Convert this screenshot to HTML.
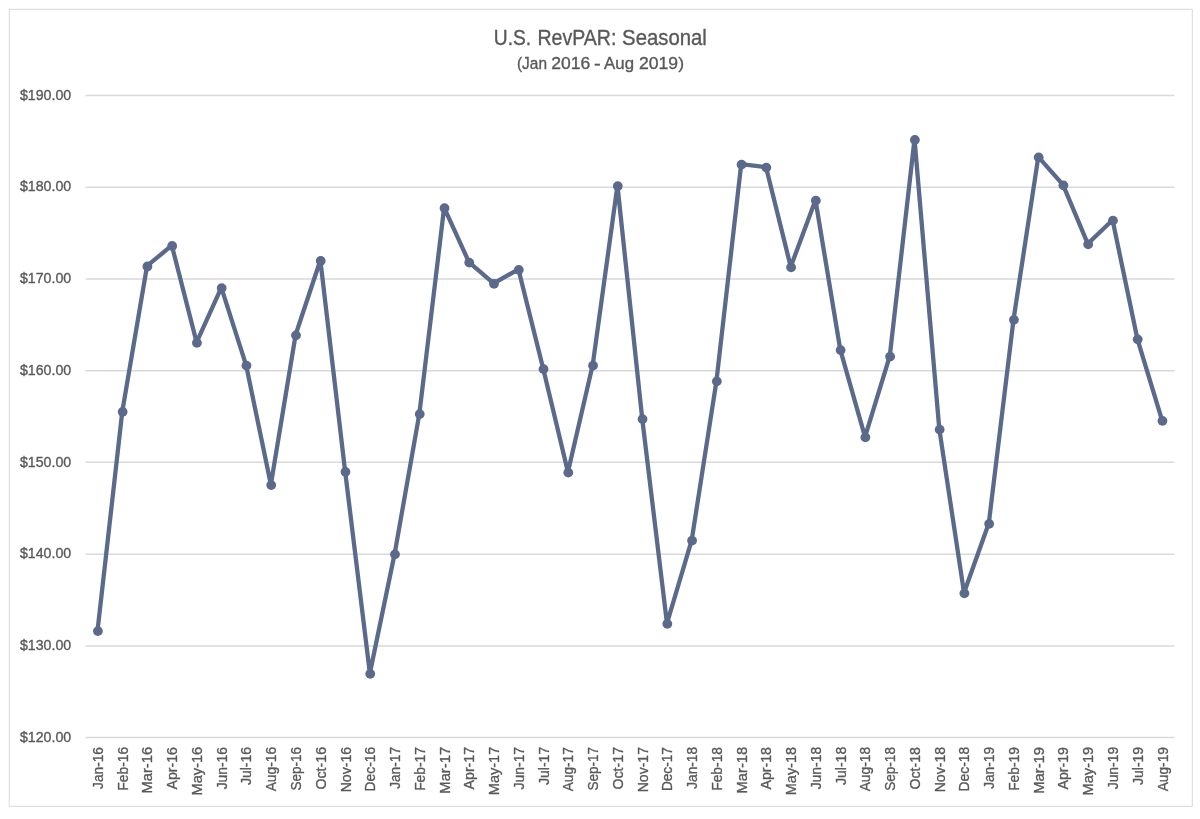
<!DOCTYPE html>
<html lang="en">
<head>
<meta charset="utf-8">
<title>U.S. RevPAR: Seasonal</title>
<style>
html,body{margin:0;padding:0;background:#ffffff;}
body{width:1200px;height:819px;overflow:hidden;font-family:"Liberation Sans",sans-serif;}
svg{display:block;will-change:transform;filter:blur(0.35px);}
text{font-family:"Liberation Sans",sans-serif;fill:#595959;stroke:#595959;stroke-width:0.35px;stroke-linejoin:round;}
</style>
</head>
<body>
<svg width="1200" height="819" viewBox="0 0 1200 819">
<rect x="0" y="0" width="1200" height="819" fill="#ffffff"/>
<rect x="9.3" y="9.3" width="1183" height="797" fill="#ffffff" stroke="#d9d9d9" stroke-width="1"/>
<g stroke="#d9d9d9" stroke-width="1.5" fill="none">
<line x1="85.6" y1="95.45" x2="1174.5" y2="95.45"/>
<line x1="85.6" y1="187.35" x2="1174.5" y2="187.35"/>
<line x1="85.6" y1="279.00" x2="1174.5" y2="279.00"/>
<line x1="85.6" y1="370.68" x2="1174.5" y2="370.68"/>
<line x1="85.6" y1="462.30" x2="1174.5" y2="462.30"/>
<line x1="85.6" y1="554.30" x2="1174.5" y2="554.30"/>
<line x1="85.6" y1="645.93" x2="1174.5" y2="645.93"/>
<line x1="85.6" y1="737.50" x2="1174.5" y2="737.50"/>
</g>
<g>
<text transform="translate(493.80 44.80) scale(0.8654 1)" font-size="22.2">U.S.</text>
<text transform="translate(537.40 44.80) scale(0.8823 1)" font-size="22.2">RevPAR:</text>
<text transform="translate(622.07 44.80) scale(0.9169 1)" font-size="22.2">Seasonal</text>
<text transform="translate(516.94 68.70) scale(0.8995 1)" font-size="17.2">(Jan</text>
<text transform="translate(551.29 68.70) scale(1.0190 1)" font-size="17.2">2016</text>
<text transform="translate(594.05 68.70) scale(1.1727 1)" font-size="17.2">-</text>
<text transform="translate(604.11 68.70) scale(0.9777 1)" font-size="17.2">Aug</text>
<text transform="translate(639.05 68.70) scale(1.0229 1)" font-size="17.2">2019)</text>
<text transform="translate(19.90 99.75) scale(0.9406 1)" font-size="15.1">$190.00</text>
<text transform="translate(19.90 191.45) scale(0.9406 1)" font-size="15.1">$180.00</text>
<text transform="translate(19.90 283.15) scale(0.9406 1)" font-size="15.1">$170.00</text>
<text transform="translate(19.90 374.85) scale(0.9406 1)" font-size="15.1">$160.00</text>
<text transform="translate(19.90 466.55) scale(0.9406 1)" font-size="15.1">$150.00</text>
<text transform="translate(19.90 558.25) scale(0.9406 1)" font-size="15.1">$140.00</text>
<text transform="translate(19.90 649.95) scale(0.9406 1)" font-size="15.1">$130.00</text>
<text transform="translate(19.90 741.65) scale(0.9406 1)" font-size="15.1">$120.00</text>
<text transform="translate(102.95 788.89) rotate(-90) scale(0.9070 1)" font-size="15.1">Jan-16</text>
<text transform="translate(127.71 790.68) rotate(-90) scale(0.9157 1)" font-size="15.1">Feb-16</text>
<text transform="translate(152.46 793.55) rotate(-90) scale(0.9757 1)" font-size="15.1">Mar-16</text>
<text transform="translate(177.22 789.42) rotate(-90) scale(0.9328 1)" font-size="15.1">Apr-16</text>
<text transform="translate(201.98 795.41) rotate(-90) scale(0.9658 1)" font-size="15.1">May-16</text>
<text transform="translate(226.74 789.33) rotate(-90) scale(0.9162 1)" font-size="15.1">Jun-16</text>
<text transform="translate(251.49 785.05) rotate(-90) scale(0.9289 1)" font-size="15.1">Jul-16</text>
<text transform="translate(276.25 791.33) rotate(-90) scale(0.9146 1)" font-size="15.1">Aug-16</text>
<text transform="translate(301.01 790.50) rotate(-90) scale(0.8965 1)" font-size="15.1">Sep-16</text>
<text transform="translate(325.76 789.54) rotate(-90) scale(0.9414 1)" font-size="15.1">Oct-16</text>
<text transform="translate(350.52 792.28) rotate(-90) scale(0.9319 1)" font-size="15.1">Nov-16</text>
<text transform="translate(375.28 791.39) rotate(-90) scale(0.9174 1)" font-size="15.1">Dec-16</text>
<text transform="translate(400.03 788.87) rotate(-90) scale(0.9079 1)" font-size="15.1">Jan-17</text>
<text transform="translate(424.79 790.86) rotate(-90) scale(0.9149 1)" font-size="15.1">Feb-17</text>
<text transform="translate(449.55 793.66) rotate(-90) scale(0.9785 1)" font-size="15.1">Mar-17</text>
<text transform="translate(474.31 789.41) rotate(-90) scale(0.9388 1)" font-size="15.1">Apr-17</text>
<text transform="translate(499.06 795.18) rotate(-90) scale(0.9624 1)" font-size="15.1">May-17</text>
<text transform="translate(523.82 789.38) rotate(-90) scale(0.9198 1)" font-size="15.1">Jun-17</text>
<text transform="translate(548.58 785.06) rotate(-90) scale(0.9307 1)" font-size="15.1">Jul-17</text>
<text transform="translate(573.33 791.34) rotate(-90) scale(0.9090 1)" font-size="15.1">Aug-17</text>
<text transform="translate(598.09 790.53) rotate(-90) scale(0.8976 1)" font-size="15.1">Sep-17</text>
<text transform="translate(622.85 789.54) rotate(-90) scale(0.9417 1)" font-size="15.1">Oct-17</text>
<text transform="translate(647.60 792.28) rotate(-90) scale(0.9304 1)" font-size="15.1">Nov-17</text>
<text transform="translate(672.36 791.10) rotate(-90) scale(0.9056 1)" font-size="15.1">Dec-17</text>
<text transform="translate(697.12 788.74) rotate(-90) scale(0.9051 1)" font-size="15.1">Jan-18</text>
<text transform="translate(721.88 790.84) rotate(-90) scale(0.9187 1)" font-size="15.1">Feb-18</text>
<text transform="translate(746.63 793.56) rotate(-90) scale(0.9813 1)" font-size="15.1">Mar-18</text>
<text transform="translate(771.39 789.42) rotate(-90) scale(0.9364 1)" font-size="15.1">Apr-18</text>
<text transform="translate(796.15 795.17) rotate(-90) scale(0.9568 1)" font-size="15.1">May-18</text>
<text transform="translate(820.90 789.34) rotate(-90) scale(0.9214 1)" font-size="15.1">Jun-18</text>
<text transform="translate(845.66 785.05) rotate(-90) scale(0.9300 1)" font-size="15.1">Jul-18</text>
<text transform="translate(870.42 791.34) rotate(-90) scale(0.9146 1)" font-size="15.1">Aug-18</text>
<text transform="translate(895.17 790.72) rotate(-90) scale(0.8975 1)" font-size="15.1">Sep-18</text>
<text transform="translate(919.93 789.54) rotate(-90) scale(0.9371 1)" font-size="15.1">Oct-18</text>
<text transform="translate(944.69 792.28) rotate(-90) scale(0.9313 1)" font-size="15.1">Nov-18</text>
<text transform="translate(969.44 791.39) rotate(-90) scale(0.9176 1)" font-size="15.1">Dec-18</text>
<text transform="translate(994.20 788.85) rotate(-90) scale(0.9070 1)" font-size="15.1">Jan-19</text>
<text transform="translate(1018.96 790.82) rotate(-90) scale(0.9142 1)" font-size="15.1">Feb-19</text>
<text transform="translate(1043.72 793.71) rotate(-90) scale(0.9754 1)" font-size="15.1">Mar-19</text>
<text transform="translate(1068.47 789.41) rotate(-90) scale(0.9365 1)" font-size="15.1">Apr-19</text>
<text transform="translate(1093.23 795.41) rotate(-90) scale(0.9656 1)" font-size="15.1">May-19</text>
<text transform="translate(1117.99 789.34) rotate(-90) scale(0.9240 1)" font-size="15.1">Jun-19</text>
<text transform="translate(1142.74 785.02) rotate(-90) scale(0.9288 1)" font-size="15.1">Jul-19</text>
<text transform="translate(1167.50 791.34) rotate(-90) scale(0.9102 1)" font-size="15.1">Aug-19</text>
</g>
<polyline transform="translate(-0.35 -0.55)" points="97.90,631.10 122.66,411.85 147.41,266.50 172.17,246.00 196.93,342.85 221.69,288.10 246.44,365.60 271.20,485.10 295.96,335.35 320.71,260.85 345.47,471.85 370.23,673.85 394.98,554.35 419.74,414.10 444.50,208.10 469.25,262.60 494.01,283.85 518.77,269.85 543.53,369.10 568.28,472.60 593.04,365.60 617.80,186.10 642.55,419.10 667.31,623.85 692.07,540.60 716.83,381.35 741.58,164.60 766.34,167.60 791.10,267.35 815.85,200.60 840.61,350.10 865.37,437.35 890.12,356.60 914.88,139.85 939.64,429.60 964.39,593.35 989.15,523.85 1013.91,319.85 1038.67,157.35 1063.42,185.35 1088.18,244.35 1112.94,220.60 1137.69,339.35 1162.45,420.85" fill="none" stroke="#5b6a8b" stroke-width="4.3" stroke-linejoin="round" stroke-linecap="round"/>
<g fill="#5b6a8b">
<circle cx="97.90" cy="631.10" r="4.9"/>
<circle cx="122.66" cy="411.85" r="4.9"/>
<circle cx="147.41" cy="266.50" r="4.9"/>
<circle cx="172.17" cy="246.00" r="4.9"/>
<circle cx="196.93" cy="342.85" r="4.9"/>
<circle cx="221.69" cy="288.10" r="4.9"/>
<circle cx="246.44" cy="365.60" r="4.9"/>
<circle cx="271.20" cy="485.10" r="4.9"/>
<circle cx="295.96" cy="335.35" r="4.9"/>
<circle cx="320.71" cy="260.85" r="4.9"/>
<circle cx="345.47" cy="471.85" r="4.9"/>
<circle cx="370.23" cy="673.85" r="4.9"/>
<circle cx="394.98" cy="554.35" r="4.9"/>
<circle cx="419.74" cy="414.10" r="4.9"/>
<circle cx="444.50" cy="208.10" r="4.9"/>
<circle cx="469.25" cy="262.60" r="4.9"/>
<circle cx="494.01" cy="283.85" r="4.9"/>
<circle cx="518.77" cy="269.85" r="4.9"/>
<circle cx="543.53" cy="369.10" r="4.9"/>
<circle cx="568.28" cy="472.60" r="4.9"/>
<circle cx="593.04" cy="365.60" r="4.9"/>
<circle cx="617.80" cy="186.10" r="4.9"/>
<circle cx="642.55" cy="419.10" r="4.9"/>
<circle cx="667.31" cy="623.85" r="4.9"/>
<circle cx="692.07" cy="540.60" r="4.9"/>
<circle cx="716.83" cy="381.35" r="4.9"/>
<circle cx="741.58" cy="164.60" r="4.9"/>
<circle cx="766.34" cy="167.60" r="4.9"/>
<circle cx="791.10" cy="267.35" r="4.9"/>
<circle cx="815.85" cy="200.60" r="4.9"/>
<circle cx="840.61" cy="350.10" r="4.9"/>
<circle cx="865.37" cy="437.35" r="4.9"/>
<circle cx="890.12" cy="356.60" r="4.9"/>
<circle cx="914.88" cy="139.85" r="4.9"/>
<circle cx="939.64" cy="429.60" r="4.9"/>
<circle cx="964.39" cy="593.35" r="4.9"/>
<circle cx="989.15" cy="523.85" r="4.9"/>
<circle cx="1013.91" cy="319.85" r="4.9"/>
<circle cx="1038.67" cy="157.35" r="4.9"/>
<circle cx="1063.42" cy="185.35" r="4.9"/>
<circle cx="1088.18" cy="244.35" r="4.9"/>
<circle cx="1112.94" cy="220.60" r="4.9"/>
<circle cx="1137.69" cy="339.35" r="4.9"/>
<circle cx="1162.45" cy="420.85" r="4.9"/>
</g>
</svg>
</body>
</html>
